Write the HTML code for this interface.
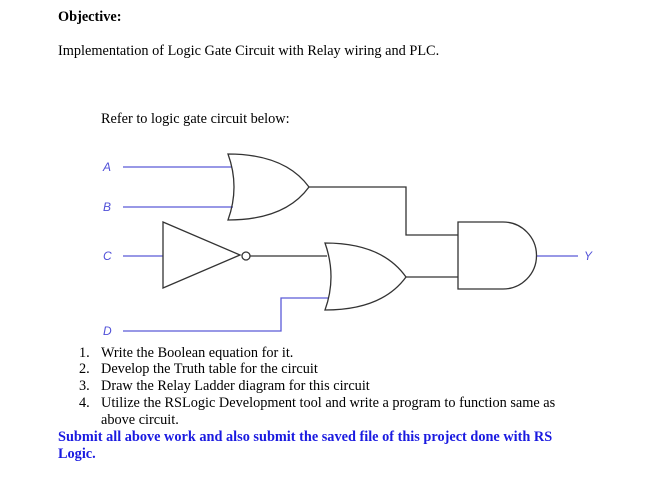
<!DOCTYPE html>
<html><head><style>
body{margin:0;width:653px;height:495px;background:#fff;position:relative;font-family:"Liberation Serif",serif;font-size:14.3px;color:#000;overflow:hidden}
.t{position:absolute;white-space:nowrap;line-height:17px}
.b{font-weight:bold}
.blue{color:#1a1ae0}
</style></head><body>
<div class="t b" style="left:58px;top:9px">Objective:</div>
<div class="t" style="left:58px;top:43px">Implementation of Logic Gate Circuit with Relay wiring and PLC.</div>
<div class="t" style="left:101px;top:111px">Refer to logic gate circuit below:</div>
<svg width="653" height="495" style="position:absolute;left:0;top:0" xmlns="http://www.w3.org/2000/svg">
<g font-family="Liberation Sans,sans-serif" font-style="italic" font-size="12" fill="#5050d8">
<text x="103" y="171">A</text><text x="103" y="211">B</text><text x="103" y="260">C</text><text x="103" y="335">D</text><text x="584" y="260">Y</text>
</g>
<g stroke="#5a5ad8" stroke-width="1.3" fill="none">
<path d="M123 167H232M123 207H233M123 256H163M123 331H281V298H329M537 256H578"/>
</g>
<g stroke="#333" stroke-width="1.3" fill="none">
<path d="M228 154Q240 187 228 220Q285 220 309 187Q285 154 228 154Z"/>
<path d="M309 187H406V235H458M250 256H327M406 277H458"/>
<path d="M163 222V288L240 255Z"/>
<circle cx="246" cy="256" r="4"/>
<path d="M325 243Q337 277 325 310Q382 310 406 277Q382 243 325 243Z"/>
<path d="M458 222H503A33.5 33.5 0 0 1 503 289H458Z"/>
</g>
</svg>
<div class="t" style="left:79px;top:345px">1.</div><div class="t" style="left:101px;top:345px">Write the Boolean equation for it.</div>
<div class="t" style="left:79px;top:361px">2.</div><div class="t" style="left:101px;top:361px">Develop the Truth table for the circuit</div>
<div class="t" style="left:79px;top:378px">3.</div><div class="t" style="left:101px;top:378px">Draw the Relay Ladder diagram for this circuit</div>
<div class="t" style="left:79px;top:395px">4.</div><div class="t" style="left:101px;top:395px">Utilize the RSLogic Development tool and write a program to function same as</div>
<div class="t" style="left:101px;top:412px">above circuit.</div>
<div class="t b blue" style="left:58px;top:429px">Submit all above work and also submit the saved file of this project done with RS</div>
<div class="t b blue" style="left:58px;top:446px">Logic.</div>
</body></html>
